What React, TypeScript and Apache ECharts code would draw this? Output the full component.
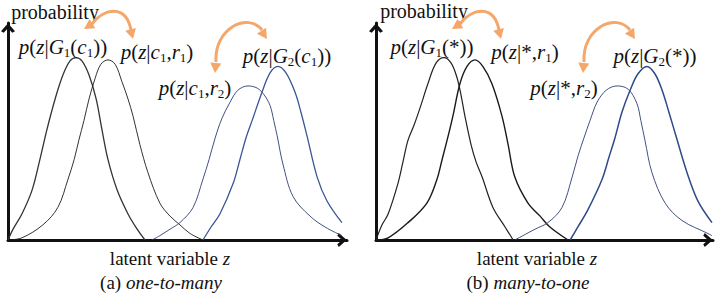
import React, { useEffect, useRef } from "react";
import * as echarts from "echarts";

// ---- data (z: 0..10 along the axis, p: 0..1 up the axis) ----
const leftG1 = [[0,0],[0.15,0.05],[0.41,0.12],[0.71,0.23],[0.94,0.37],[1.15,0.51],[1.39,0.65],[1.62,0.76],[1.83,0.825],[2.01,0.84],[2.18,0.825],[2.39,0.76],[2.60,0.65],[2.77,0.51],[2.95,0.37],[3.22,0.23],[3.54,0.12],[3.81,0.05],[4.04,0]];
const leftR1 = [[0,0],[0.41,0.01],[1.03,0.07],[1.47,0.15],[1.77,0.28],[1.95,0.37],[2.09,0.46],[2.24,0.55],[2.39,0.65],[2.57,0.745],[2.74,0.81],[2.95,0.83],[3.16,0.81],[3.36,0.73],[3.54,0.65],[3.69,0.57],[3.89,0.44],[4.13,0.31],[4.48,0.17],[4.78,0.11],[5.07,0.07],[5.37,0.03],[5.75,0]];
const leftR2 = [[4.25,0],[4.48,0.02],[4.78,0.05],[5.07,0.08],[5.46,0.15],[5.75,0.28],[5.93,0.37],[6.11,0.47],[6.31,0.56],[6.55,0.635],[6.78,0.69],[7.08,0.71],[7.35,0.70],[7.55,0.67],[7.73,0.62],[7.84,0.55],[7.94,0.48],[8.11,0.35],[8.41,0.20],[8.91,0.11],[9.35,0.06],[9.85,0.02]];
const leftG2 = [[5.75,0],[5.99,0.06],[6.25,0.12],[6.64,0.26],[6.84,0.37],[7.02,0.47],[7.20,0.55],[7.49,0.68],[7.73,0.77],[7.96,0.80],[8.20,0.77],[8.47,0.68],[8.64,0.59],[8.82,0.48],[9.12,0.29],[9.41,0.18],[9.85,0.08]];

const rightG1 = [[0,0],[0.18,0.07],[0.36,0.12],[0.65,0.26],[0.80,0.36],[0.95,0.46],[1.13,0.53],[1.31,0.61],[1.54,0.72],[1.78,0.815],[2.02,0.84],[2.23,0.815],[2.40,0.75],[2.52,0.67],[2.64,0.57],[2.82,0.44],[2.97,0.36],[3.15,0.29],[3.47,0.15],[3.83,0.06],[4.07,0]];
const rightR1 = [[0,0],[0.36,0.01],[0.95,0.08],[1.51,0.17],[1.81,0.28],[1.96,0.37],[2.11,0.46],[2.28,0.57],[2.49,0.72],[2.70,0.80],[2.94,0.83],[3.17,0.80],[3.44,0.72],[3.74,0.57],[3.92,0.44],[4.12,0.29],[4.51,0.17],[4.87,0.11],[5.16,0.06],[5.70,0]];
const rightR2 = [[4.12,0],[4.72,0.05],[5.10,0.08],[5.52,0.15],[5.82,0.29],[6.00,0.39],[6.17,0.47],[6.35,0.55],[6.56,0.635],[6.83,0.69],[7.15,0.71],[7.48,0.695],[7.74,0.63],[7.86,0.55],[7.98,0.46],[8.19,0.31],[8.58,0.17],[9.08,0.09],[9.85,0.03],[9.97,0.02]];
const rightG2 = [[5.76,0],[5.99,0.06],[6.29,0.14],[6.71,0.28],[6.91,0.38],[7.09,0.47],[7.30,0.59],[7.54,0.69],[7.77,0.765],[8.04,0.80],[8.28,0.765],[8.49,0.69],[8.69,0.59],[8.90,0.48],[9.23,0.31],[9.55,0.18],[9.97,0.08]];

const leftLabels = [
  "{i|p}{n|(}{i|z}{n||}{i|G}{s|1}{n|(}{i|c}{s|1}{n|))}",
  "{i|p}{n|(}{i|z}{n||}{i|c}{s|1}{n|,}{i|r}{s|1}{n|)}",
  "{i|p}{n|(}{i|z}{n||}{i|c}{s|1}{n|,}{i|r}{s|2}{n|)}",
  "{i|p}{n|(}{i|z}{n||}{i|G}{s|2}{n|(}{i|c}{s|1}{n|))}",
];
const rightLabels = [
  "{i|p}{n|(}{i|z}{n||}{i|G}{s|1}{n|(*))}",
  "{i|p}{n|(}{i|z}{n||*,}{i|r}{s|1}{n|)}",
  "{i|p}{n|(}{i|z}{n||*,}{i|r}{s|2}{n|)}",
  "{i|p}{n|(}{i|z}{n||}{i|G}{s|2}{n|(*))}",
];
const yName = "{n|probability}";
const xName = "{n|latent variable }{it|z}";
const captions = ["{n|(a) }{it|one-to-many}", "{n|(b) }{it|many-to-one}"];

const SERIF = "Liberation Serif";
const ORANGE = "#F5A66A";
const CHEVRON = "path://M0,8 L7,0 L14,8 L11.2,9.5 L7,4.7 L2.8,9.5 Z";

const richStyles = (size: number) => ({
  i: { fontFamily: SERIF, fontSize: size, fontStyle: "italic", fill: "#111", color: "#111" },
  n: { fontFamily: SERIF, fontSize: size, fontStyle: "normal", fill: "#111", color: "#111" },
  it: { fontFamily: SERIF, fontSize: size, fontStyle: "italic", fill: "#111", color: "#111" },
  s: { fontFamily: SERIF, fontSize: 13, fontStyle: "normal", fill: "#111", color: "#111", padding: [10, 0, 0, 0] },
});

function label(text: string, cx: number, cy: number, size: number) {
  return {
    type: "text",
    x: cx,
    y: cy,
    z: 10,
    style: {
      text,
      fontFamily: SERIF,
      fontSize: size,
      fill: "#111",
      align: "center",
      verticalAlign: "middle",
      textAlign: "center",
      textVerticalAlign: "middle",
      rich: richStyles(size),
    },
  };
}

function head(tip: number[], from: number[], len = 10, half = 5.5) {
  const dx = tip[0] - from[0];
  const dy = tip[1] - from[1];
  const d = Math.hypot(dx, dy);
  const ux = dx / d;
  const uy = dy / d;
  const bx = tip[0] - ux * len;
  const by = tip[1] - uy * len;
  return {
    type: "polygon",
    z: 10,
    shape: { points: [[tip[0], tip[1]], [bx - uy * half, by + ux * half], [bx + uy * half, by - ux * half]] },
    style: { fill: ORANGE },
  };
}

function arrows(ox: number) {
  const curve = (x1: number, y1: number, c1x: number, c1y: number, c2x: number, c2y: number, x2: number, y2: number) => ({
    type: "bezierCurve",
    z: 10,
    shape: { x1: x1 + ox, y1, cpx1: c1x + ox, cpy1: c1y, cpx2: c2x + ox, cpy2: c2y, x2: x2 + ox, y2 },
    style: { stroke: ORANGE, lineWidth: 3, fill: null },
  });
  return [
    curve(92, 24, 104, 8, 126, 4, 131, 30),
    head([84 + ox, 29], [95 + ox, 22]),
    head([133 + ox, 39], [130 + ox, 27]),
    curve(216, 62, 214, 28, 248, 12, 262, 30),
    head([215 + ox, 73], [216 + ox, 60]),
    head([267 + ox, 39], [259 + ox, 27]),
  ];
}

const axisCommon = {
  type: "value",
  axisLine: {
    show: true,
    onZero: false,
    lineStyle: { color: "#111", width: 3 },
    symbol: ["none", CHEVRON],
    symbolSize: [14, 10],
    symbolOffset: [0, -5],
  },
  axisTick: { show: false },
  axisLabel: { show: false },
  splitLine: { show: false },
};

function line(data: number[][], idx: number, color: string, width: number) {
  return {
    type: "line",
    xAxisIndex: idx,
    yAxisIndex: idx,
    data,
    showSymbol: false,
    symbol: "none",
    smooth: 0.35,
    clip: false,
    lineStyle: { color, width },
  };
}

export default function App() {
  const ref = useRef<HTMLDivElement>(null);
  useEffect(() => {
    if (!ref.current) return;
    const chart = echarts.init(ref.current, null, { renderer: "svg" });
    chart.setOption({
      animation: false,
      backgroundColor: "#fff",
      textStyle: { fontFamily: SERIF },
      grid: [
        { left: 8, top: 23, width: 339, height: 217, outerBoundsMode: "none" },
        { left: 376, top: 23, width: 337, height: 217, outerBoundsMode: "none" },
      ],
      xAxis: [
        { ...axisCommon, gridIndex: 0, min: 0, max: 10 },
        { ...axisCommon, gridIndex: 1, min: 0, max: 10 },
      ],
      yAxis: [
        { ...axisCommon, gridIndex: 0, min: 0, max: 1 },
        { ...axisCommon, gridIndex: 1, min: 0, max: 1 },
      ],
      series: [
        line(leftG1, 0, "#333333", 1.3),
        line(leftR1, 0, "#1c1c1c", 0.9),
        line(leftR2, 0, "#2c3d73", 0.9),
        line(leftG2, 0, "#3b5594", 1.3),
        line(rightG1, 1, "#222222", 1.2),
        line(rightR1, 1, "#1a1a1a", 1.4),
        line(rightR2, 1, "#2c3d73", 0.9),
        line(rightG2, 1, "#2f4a8a", 1.5),
      ],
      graphic: [
        label(yName, 55, 12, 20),
        label(yName, 424, 11, 20),
        label(leftLabels[0], 63, 47, 21),
        label(leftLabels[1], 157, 52, 21),
        label(leftLabels[2], 195, 88, 21),
        label(leftLabels[3], 287, 56, 21),
        label(rightLabels[0], 432, 47, 21),
        label(rightLabels[1], 525, 52, 21),
        label(rightLabels[2], 564, 88, 21),
        label(rightLabels[3], 655, 56, 21),
        label(xName, 170, 258, 19),
        label(xName, 537, 258, 19),
        label(captions[0], 161, 282, 19),
        label(captions[1], 528, 282, 19),
        ...arrows(0),
        ...arrows(368),
      ],
    });
    return () => chart.dispose();
  }, []);
  return (
    <div
      ref={ref}
      style={{ position: "absolute", left: 0, top: 0, width: 721, height: 298, background: "#fff" }}
    />
  );
}
